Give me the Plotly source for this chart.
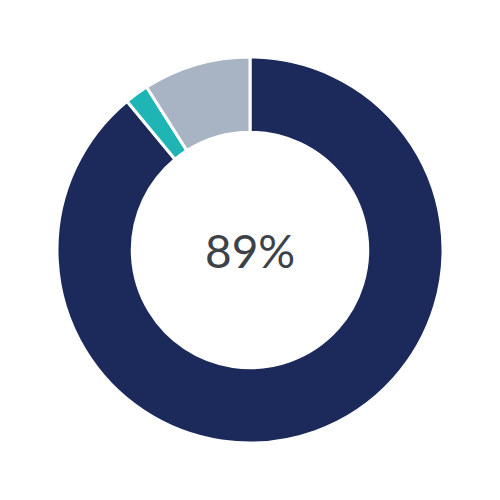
import plotly.graph_objects as go

labels = ["Primary", "Secondary", "Other"]
values = [89, 2, 9]
colors = ["#1b2a5a", "#1fb5b5", "#a8b3c3"]
center_text = "89%"

fig = go.Figure(go.Pie(
    labels=labels, values=values, hole=0.61, sort=False,
    direction="clockwise", rotation=0,
    marker=dict(colors=colors, line=dict(color="white", width=3)),
    textinfo="none", hoverinfo="label+percent",
    domain=dict(x=[0.098, 0.870], y=[0.130, 0.902]),
))
fig.add_annotation(text=center_text, x=0.484, y=0.516, xref="paper", yref="paper",
                   showarrow=False, font=dict(size=46, color="#3d4148", family="Lato"))
fig.update_layout(width=500, height=500, showlegend=False,
                  margin=dict(l=0, r=0, t=0, b=0),
                  paper_bgcolor="white", plot_bgcolor="white")
fig.write_html("out.html")
